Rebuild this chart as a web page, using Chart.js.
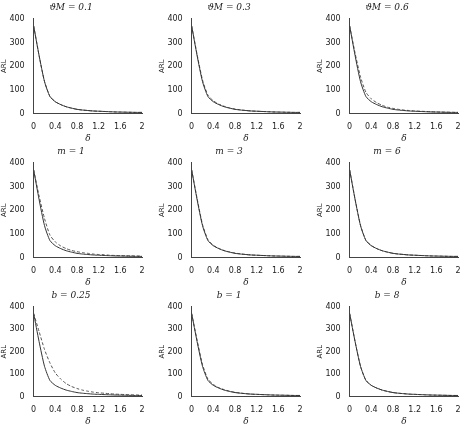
<!DOCTYPE html>
<html>
<head>
<meta charset="UTF-8">
<script src="https://cdn.jsdelivr.net/npm/chart.js"></script>
<style>
  body { margin: 0; background: #fff; }
  #grid { display: grid; grid-template-columns: 158px 158px 158px; grid-template-rows: 144px 144px 139px; width: 474px; height: 427px; }
  .cell { position: relative; }
</style>
</head>
<body>
<div id="grid"></div>
<script>
const deltas = [0, 0.1, 0.2, 0.3, 0.4, 0.5, 0.6, 0.7, 0.8, 0.9, 1.0, 1.1, 1.2, 1.3, 1.4, 1.5, 1.6, 1.7, 1.8, 1.9, 2.0];
const xTicks = [0, 0.4, 0.8, 1.2, 1.6, 2];
const yTicks = [0, 100, 200, 300, 400];
const titles = ['ϑM = 0.1', 'ϑM = 0.3', 'ϑM = 0.6', 'm = 1', 'm = 3', 'm = 6', 'b = 0.25', 'b = 1', 'b = 8'];

const solid = [370, 245, 135, 72, 50, 38, 29, 23, 18, 15, 13, 11, 10, 9, 8, 7, 6.5, 6, 5.5, 5, 5];
const dashed01 = [370, 245, 136, 73, 50, 38, 29, 23, 18, 15, 13, 11, 10, 9, 8, 7, 6.5, 6, 5.5, 5, 5];
const dashed03 = [370, 250, 142, 78, 54, 40, 31, 24, 19, 16, 13, 11, 10, 9, 8, 7, 6.5, 6, 5.5, 5, 5];
const dashed06 = [370, 255, 155, 90, 62, 46, 35, 27, 22, 18, 15, 13, 11, 10, 9, 8, 7, 6.5, 6, 5.5, 5];
const dashedM1 = [370, 260, 165, 95, 66, 49, 38, 30, 25, 21, 18, 15, 13, 12, 10, 9, 8.5, 8, 7.5, 7, 6.5];
const dashedM3 = [370, 250, 140, 76, 52, 39, 30, 24, 19, 16, 13, 11, 10, 9, 8, 7, 6.5, 6, 5.5, 5, 5];
const dashedM6 = [370, 247, 137, 73, 51, 38, 29, 23, 18, 15, 13, 11, 10, 9, 8, 7, 6.5, 6, 5.5, 5, 5];
const dashedB025 = [370, 290, 210, 150, 105, 78, 58, 45, 36, 29, 24, 20, 17, 15, 13, 11, 10, 9, 8, 7.5, 7];
const dashedB1 = [370, 252, 143, 78, 54, 40, 31, 24, 19, 16, 13, 11, 10, 9, 8, 7, 6.5, 6, 5.5, 5, 5];
const dashedB8 = [370, 245, 135, 72, 50, 38, 29, 23, 18, 15, 13, 11, 10, 9, 8, 7, 6.5, 6, 5.5, 5, 5];
const dashedSets = [dashed01, dashed03, dashed06, dashedM1, dashedM3, dashedM6, dashedB025, dashedB1, dashedB8];

const grid = document.getElementById('grid');
const tickFont = { family: 'DejaVu Sans', size: 8 };

titles.forEach((title, i) => {
    const cell = document.createElement('div');
    cell.className = 'cell';
    const canvas = document.createElement('canvas');
    cell.appendChild(canvas);
    grid.appendChild(cell);

    new Chart(canvas, {
        type: 'line',
        data: {
            datasets: [
                { data: deltas.map((d, k) => ({ x: d, y: solid[k] })), borderColor: '#333', borderWidth: 1, pointRadius: 0, tension: 0.2 },
                { data: deltas.map((d, k) => ({ x: d, y: dashedSets[i][k] })), borderColor: '#555', borderWidth: 1, borderDash: [3, 2], pointRadius: 0, tension: 0.2 }
            ]
        },
        options: {
            responsive: true,
            maintainAspectRatio: false,
            animation: false,
            layout: { padding: { left: 0, right: 16, top: 0, bottom: 0 } },
            plugins: {
                legend: { display: false },
                title: { display: true, text: title, color: '#222', font: { family: 'DejaVu Serif', size: 9, style: 'italic', weight: 'normal' }, padding: { top: 2, bottom: 6 } }
            },
            scales: {
                x: {
                    type: 'linear', min: 0, max: 2,
                    afterBuildTicks: axis => { axis.ticks = xTicks.map(v => ({ value: v })); },
                    grid: { display: false },
                    border: { color: '#444' },
                    ticks: { font: tickFont, color: '#222', maxRotation: 0, padding: 1, callback: v => String(v) },
                    title: { display: true, text: 'δ', font: { family: 'DejaVu Serif', size: 9, style: 'italic' }, color: '#222', padding: 0 }
                },
                y: {
                    min: 0, max: 400,
                    afterBuildTicks: axis => { axis.ticks = yTicks.map(v => ({ value: v })); },
                    grid: { display: false },
                    border: { color: '#444' },
                    ticks: { font: tickFont, color: '#222', padding: 1 },
                    title: { display: true, text: 'ARL', font: { family: 'DejaVu Sans', size: 7 }, color: '#222', padding: 0 }
                }
            }
        }
    });
});
</script>
</body>
</html>
